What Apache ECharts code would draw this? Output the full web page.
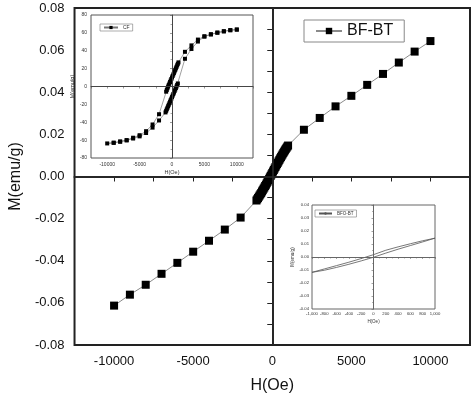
<!DOCTYPE html>
<html>
<head>
<meta charset="utf-8">
<script src="https://cdn.jsdelivr.net/npm/echarts@6.0.0/dist/echarts.min.js"></script>
<style>
html, body { margin: 0; padding: 0; background: #fff; }
#chart { width: 474px; height: 399px; }
</style>
</head>
<body>
<div id="chart"></div>
<script>
// main curve, BF-BT
var bfH = [-10000, -9000, -8000, -7000, -6000, -5000, -4000, -3000, -2000,
  -1000, -950, -900, -850, -800, -750, -700, -650, -600, -550, -500,
  -450, -400, -350, -300, -250, -200, -150, -100, -50, 0,
  50, 100, 150, 200, 250, 300, 350, 400, 450, 500,
  550, 600, 650, 700, 750, 800, 850, 900, 950, 1000,
  2000, 3000, 4000, 5000, 6000, 7000, 8000, 9000, 10000];
var bfM = [-0.0613, -0.0561, -0.0514, -0.0462, -0.0410, -0.0357, -0.0305, -0.0252, -0.0195,
  -0.0114, -0.0108, -0.0102, -0.0096, -0.0090, -0.0084, -0.0078, -0.0071, -0.0065, -0.0058, -0.0052,
  -0.0045, -0.0039, -0.0032, -0.0025, -0.0018, -0.0011, -0.0004, 0.0003, 0.0010, 0.0017,
  0.0024, 0.0031, 0.0038, 0.0045, 0.0052, 0.0059, 0.0065, 0.0072, 0.0079, 0.0086,
  0.0092, 0.0099, 0.0105, 0.0112, 0.0118, 0.0124, 0.0130, 0.0136, 0.0142, 0.0147,
  0.0222, 0.0278, 0.0333, 0.0383, 0.0435, 0.0487, 0.0541, 0.0593, 0.0643];

// inset CF loop (down branch then up branch)
var cfH = [10000, 9000, 8000, 7000, 6000, 5000, 4000, 3000, 2000,
  1000, 900, 800, 700, 600, 500, 400, 300, 200, 100, 0,
  -100, -200, -300, -400, -500, -600, -700, -800, -900,
  -2000, -3000, -4000, -5000, -6000, -7000, -8000, -9000, -10000,
  -9000, -8000, -7000, -6000, -5000, -4000, -3000, -2000,
  -1000, -900, -800, -700, -600, -500, -400, -300, -200, -100, 0,
  100, 200, 300, 400, 500, 600, 700, 800, 900,
  2000, 3000, 4000, 5000, 6000, 7000, 8000, 9000, 10000];
var cfM = [63.7, 63.0, 61.8, 60.3, 58.4, 56.2, 52.5, 46.0, 38.8,
  27.0, 25.4, 23.7, 22.0, 20.3, 18.6, 16.9, 15.2, 13.5, 11.8, 10.1,
  8.4, 6.7, 5.0, 3.3, 1.6, -0.1, -1.9, -3.8, -5.8,
  -31.0, -42.5, -50.0, -54.5, -57.3, -60.0, -61.5, -62.9, -63.7,
  -63.0, -61.8, -60.3, -58.2, -55.8, -52.0, -46.0, -38.0,
  -29.0, -27.2, -25.5, -23.8, -22.1, -20.4, -18.7, -17.0, -15.3, -13.6, -11.9,
  -10.2, -8.5, -6.8, -5.1, -3.4, -1.7, 0.0, 1.7, 3.4,
  31.0, 42.0, 50.3, 55.8, 58.3, 60.2, 61.7, 63.0, 63.7];

// inset BFO-BT loop
var bfoH = [1000, 800, 600, 400, 200, 0, -200, -400, -600, -800, -1000,
  -800, -600, -400, -200, 0, 200, 400, 600, 800, 1000];
var bfoM = [0.0145, 0.0125, 0.0102, 0.0078, 0.0052, 0.0018, -0.0012, -0.0040, -0.0066, -0.0092, -0.0118,
  -0.0102, -0.0080, -0.0056, -0.0030, -0.0002, 0.0030, 0.0060, 0.0088, 0.0116, 0.0145];

function pairs(xs, ys) {
  var out = [];
  for (var i = 0; i < xs.length; i++) out.push([xs[i], ys[i]]);
  return out;
}

var font = 'Liberation Sans, Arial, sans-serif';
var chart = echarts.init(document.getElementById('chart'));

function zeroLines(color, width) {
  return {
    silent: true, symbol: 'none', animation: false,
    label: { show: false },
    lineStyle: { color: color, width: width, type: 'solid' },
    emphasis: { disabled: true },
    data: [{ xAxis: 0 }, { yAxis: 0 }]
  };
}

chart.setOption({
  animation: false,
  textStyle: { fontFamily: font },
  grid: [
    { left: 64, top: 8, width: 406, height: 339, show: true, borderColor: '#222', borderWidth: 2 },
    { left: 91, top: 15, width: 162, height: 143, show: true, borderColor: '#555', borderWidth: 1 },
    { left: 312, top: 205, width: 123, height: 104, show: true, borderColor: '#666', borderWidth: 1 }
  ],
  legend: [
    {
      data: ['BF-BT'], left: 304, top: 20, padding: [3, 11],
      borderColor: '#888', borderWidth: 1, itemWidth: 26, itemHeight: 8, itemGap: 0,
      textStyle: { fontSize: 16, color: '#111', fontFamily: font }
    },
    {
      data: ['CF'], left: 100, top: 24, padding: [1, 3],
      borderColor: '#777', borderWidth: 0.6, itemWidth: 14, itemHeight: 4,
      textStyle: { fontSize: 5, color: '#333', fontFamily: font }
    },
    {
      data: ['BFO-BT'], left: 315, top: 210, padding: [1, 3],
      borderColor: '#777', borderWidth: 0.6, itemWidth: 13, itemHeight: 3,
      textStyle: { fontSize: 4.5, color: '#333', fontFamily: font }
    }
  ],
  xAxis: [
    {
      gridIndex: 0, type: 'value', min: -12500, max: 12500, interval: 2500,
      name: 'H(Oe)', nameLocation: 'middle', nameGap: 33,
      nameTextStyle: { fontSize: 16, color: '#111' },
      axisLine: { lineStyle: { color: '#222', width: 2 } },
      axisTick: { length: 5, lineStyle: { color: '#222', width: 1 } },
      axisLabel: {
        fontSize: 13, color: '#111', margin: 10,
        formatter: function (v) { return v % 5000 === 0 ? String(v) : ''; }
      },
      splitLine: { show: false }
    },
    {
      gridIndex: 1, type: 'value', min: -12500, max: 12500, interval: 2500,
      name: 'H(Oe)', nameLocation: 'middle', nameGap: 11,
      nameTextStyle: { fontSize: 5.5, color: '#333' },
      axisLine: { lineStyle: { color: '#555', width: 1 } },
      axisTick: { length: 2, lineStyle: { color: '#555', width: 0.6 } },
      axisLabel: {
        fontSize: 5, color: '#333', margin: 4,
        formatter: function (v) { return v % 5000 === 0 ? String(v) : ''; }
      },
      splitLine: { show: false }
    },
    {
      gridIndex: 2, type: 'value', min: -1000, max: 1000, interval: 200,
      name: 'H(Oe)', nameLocation: 'middle', nameGap: 10,
      nameTextStyle: { fontSize: 4.5, color: '#333' },
      axisLine: { lineStyle: { color: '#666', width: 1 } },
      axisTick: { length: 2, lineStyle: { color: '#666', width: 0.6 } },
      minorTick: { show: true, splitNumber: 2, length: 1.5, lineStyle: { color: '#666', width: 0.5 } },
      axisLabel: { fontSize: 4.2, color: '#333', margin: 3 },
      splitLine: { show: false }
    }
  ],
  yAxis: [
    {
      gridIndex: 0, type: 'value', min: -0.08, max: 0.08, interval: 0.01,
      name: 'M(emu/g)', nameLocation: 'middle', nameGap: 46,
      nameTextStyle: { fontSize: 16, color: '#111' },
      axisLine: { lineStyle: { color: '#222', width: 2 } },
      axisTick: { length: 5, lineStyle: { color: '#222', width: 1 } },
      axisLabel: {
        fontSize: 13, color: '#111', margin: 10,
        formatter: function (v) {
          var k = Math.round(v * 100);
          return k % 2 === 0 ? (k / 100).toFixed(2) : '';
        }
      },
      splitLine: { show: false }
    },
    {
      gridIndex: 1, type: 'value', min: -80, max: 80, interval: 20,
      name: 'M(emu/g)', nameLocation: 'middle', nameGap: 10,
      nameTextStyle: { fontSize: 5.5, color: '#333' },
      axisLine: { lineStyle: { color: '#555', width: 1 } },
      axisTick: { length: 2, lineStyle: { color: '#555', width: 0.6 } },
      minorTick: { show: true, splitNumber: 2, length: 1.5, lineStyle: { color: '#555', width: 0.5 } },
      axisLabel: { fontSize: 5, color: '#333', margin: 4 },
      splitLine: { show: false }
    },
    {
      gridIndex: 2, type: 'value', min: -0.04, max: 0.04, interval: 0.01,
      name: 'M(emu/g)', nameLocation: 'middle', nameGap: 13,
      nameTextStyle: { fontSize: 4.5, color: '#333' },
      axisLine: { lineStyle: { color: '#666', width: 1 } },
      axisTick: { length: 2, lineStyle: { color: '#666', width: 0.6 } },
      minorTick: { show: true, splitNumber: 2, length: 1.5, lineStyle: { color: '#666', width: 0.5 } },
      axisLabel: {
        fontSize: 4.2, color: '#333', margin: 3,
        formatter: function (v) { return v.toFixed(2); }
      },
      splitLine: { show: false }
    }
  ],
  series: [
    {
      name: 'BF-BT', type: 'line', xAxisIndex: 0, yAxisIndex: 0,
      data: pairs(bfH, bfM),
      symbol: 'rect', symbolSize: 8,
      itemStyle: { color: '#000' },
      lineStyle: { color: '#8a8a8a', width: 1 },
      markLine: zeroLines('#2a2a2a', 1.6)
    },
    {
      name: 'CF', type: 'line', xAxisIndex: 1, yAxisIndex: 1,
      data: pairs(cfH, cfM),
      symbol: 'rect', symbolSize: 4,
      itemStyle: { color: '#000' },
      lineStyle: { color: '#777', width: 0.7 },
      markLine: zeroLines('#444', 0.9)
    },
    {
      name: 'BFO-BT', type: 'line', xAxisIndex: 2, yAxisIndex: 2,
      data: pairs(bfoH, bfoM),
      showSymbol: false, symbol: 'none',
      itemStyle: { color: '#555' },
      lineStyle: { color: '#555', width: 0.8 },
      markLine: zeroLines('#666', 0.8)
    }
  ]
});
</script>
</body>
</html>
